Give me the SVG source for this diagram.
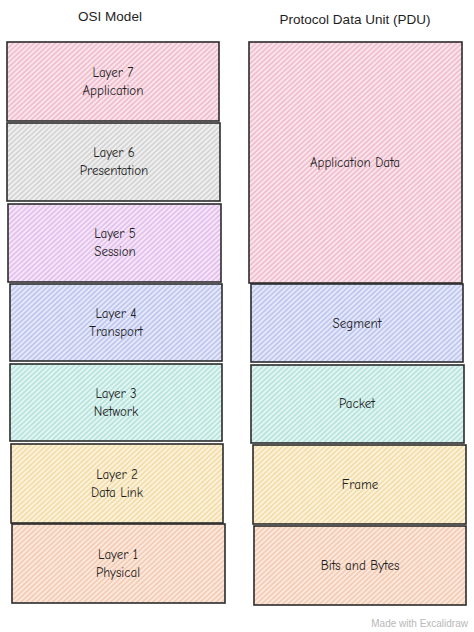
<svg xmlns="http://www.w3.org/2000/svg" width="474" height="632" viewBox="0 0 474 632">
<style>
  .box { stroke: #2b2b2b; stroke-width: 1.6; }
  .t { font-family: "Comic Neue", "Liberation Sans", "DejaVu Sans", sans-serif; font-size: 13px; fill: #1e1e1e; text-anchor: middle; }
  .title { font-family: "Liberation Sans", "DejaVu Sans", sans-serif; font-size: 13.5px; fill: #1e1e1e; text-anchor: middle; }
  .wm { font-family: "Liberation Sans", "DejaVu Sans", sans-serif; font-size: 10px; fill: #b8b8b8; text-anchor: end; }
</style>
<defs>
  <pattern id="hPink" patternUnits="userSpaceOnUse" width="3.6" height="4" patternTransform="rotate(47)">
    <rect width="4" height="4" fill="#f9e6ec"/><line x1="1" y1="0" x2="1" y2="4" stroke="#eeacc1" stroke-width="1.2"/>
  </pattern>
  <pattern id="hGray" patternUnits="userSpaceOnUse" width="3.6" height="4" patternTransform="rotate(47)">
    <rect width="4" height="4" fill="#f0f0f0"/><line x1="1" y1="0" x2="1" y2="4" stroke="#c8c8c8" stroke-width="1.2"/>
  </pattern>
  <pattern id="hViolet" patternUnits="userSpaceOnUse" width="3.6" height="4" patternTransform="rotate(47)">
    <rect width="4" height="4" fill="#f5e7f8"/><line x1="1" y1="0" x2="1" y2="4" stroke="#dcb0e8" stroke-width="1.2"/>
  </pattern>
  <pattern id="hBlue" patternUnits="userSpaceOnUse" width="3.6" height="4" patternTransform="rotate(47)">
    <rect width="4" height="4" fill="#e6e9f9"/><line x1="1" y1="0" x2="1" y2="4" stroke="#afb8ea" stroke-width="1.2"/>
  </pattern>
  <pattern id="hTeal" patternUnits="userSpaceOnUse" width="3.6" height="4" patternTransform="rotate(47)">
    <rect width="4" height="4" fill="#e3f6f3"/><line x1="1" y1="0" x2="1" y2="4" stroke="#a5dcd3" stroke-width="1.2"/>
  </pattern>
  <pattern id="hYellow" patternUnits="userSpaceOnUse" width="3.6" height="4" patternTransform="rotate(47)">
    <rect width="4" height="4" fill="#fcf3dc"/><line x1="1" y1="0" x2="1" y2="4" stroke="#f0d394" stroke-width="1.2"/>
  </pattern>
  <pattern id="hOrange" patternUnits="userSpaceOnUse" width="3.6" height="4" patternTransform="rotate(47)">
    <rect width="4" height="4" fill="#fce9de"/><line x1="1" y1="0" x2="1" y2="4" stroke="#f1bfa2" stroke-width="1.2"/>
  </pattern>
</defs>
<rect width="474" height="632" fill="#ffffff"/>

<g id="titles">
  <text class="title" x="110" y="21">OSI Model</text>
  <text class="title" x="355" y="24">Protocol Data Unit (PDU)</text>
</g>

<g id="layer7">
  <rect class="box" x="7" y="42" width="212" height="79" fill="url(#hPink)"/>
  <text class="t" x="113" y="77">Layer 7</text>
  <text class="t" x="113" y="95">Application</text>
</g>
<g id="layer6">
  <rect class="box" x="7" y="123" width="213" height="78" fill="url(#hGray)"/>
  <text class="t" x="114" y="157">Layer 6</text>
  <text class="t" x="114" y="175">Presentation</text>
</g>
<g id="layer5">
  <rect class="box" x="8" y="204" width="213" height="78" fill="url(#hViolet)"/>
  <text class="t" x="115" y="238">Layer 5</text>
  <text class="t" x="115" y="256">Session</text>
</g>
<g id="layer4">
  <rect class="box" x="10" y="284" width="212" height="77" fill="url(#hBlue)"/>
  <text class="t" x="116" y="318">Layer 4</text>
  <text class="t" x="116" y="336">Transport</text>
</g>
<g id="layer3">
  <rect class="box" x="10" y="364" width="212" height="77" fill="url(#hTeal)"/>
  <text class="t" x="116" y="398">Layer 3</text>
  <text class="t" x="116" y="416">Network</text>
</g>
<g id="layer2">
  <rect class="box" x="11" y="444" width="212" height="79" fill="url(#hYellow)"/>
  <text class="t" x="117" y="479">Layer 2</text>
  <text class="t" x="117" y="497">Data Link</text>
</g>
<g id="layer1">
  <rect class="box" x="12" y="524" width="213" height="79" fill="url(#hOrange)"/>
  <text class="t" x="118" y="559">Layer 1</text>
  <text class="t" x="118" y="577">Physical</text>
</g>

<g id="pdu-application">
  <rect class="box" x="249" y="42" width="213" height="241" fill="url(#hPink)"/>
  <text class="t" x="355" y="167">Application Data</text>
</g>
<g id="pdu-segment">
  <rect class="box" x="251" y="284" width="212" height="78" fill="url(#hBlue)"/>
  <text class="t" x="357" y="328">Segment</text>
</g>
<g id="pdu-packet">
  <rect class="box" x="251" y="365" width="213" height="78" fill="url(#hTeal)"/>
  <text class="t" x="357" y="408">Packet</text>
</g>
<g id="pdu-frame">
  <rect class="box" x="253" y="445" width="213" height="79" fill="url(#hYellow)"/>
  <text class="t" x="360" y="489">Frame</text>
</g>
<g id="pdu-bits">
  <rect class="box" x="254" y="526" width="212" height="79" fill="url(#hOrange)"/>
  <text class="t" x="360" y="570">Bits and Bytes</text>
</g>

<g id="connectors"></g>

<text class="wm" x="468" y="627">Made with Excalidraw</text>
</svg>
